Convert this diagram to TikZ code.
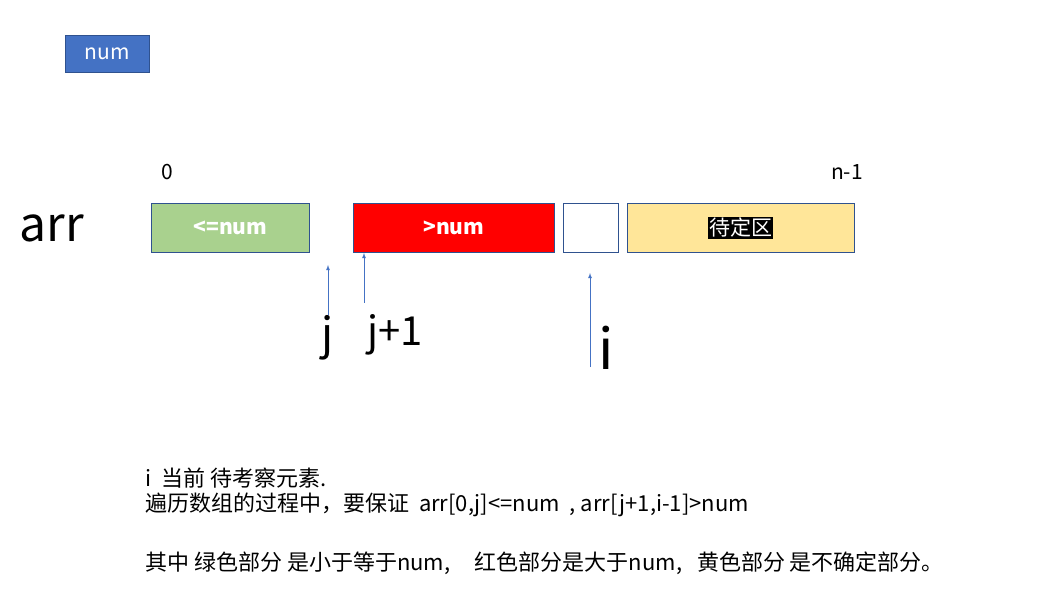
\documentclass[tikz,border=0pt]{standalone}
\usepackage{fontspec}
\setmainfont{Noto Sans CJK SC}
\definecolor{bl}{HTML}{4472C4}
\definecolor{bd}{HTML}{2F528F}
\definecolor{gr}{HTML}{A9D18E}
\definecolor{ye}{HTML}{FFE699}
\begin{document}
\begin{tikzpicture}[x=1pt,y=-1pt,
  cell/.style={draw=bd,line width=0.8pt,inner sep=0pt,anchor=north west},
  arr/.style={-latex,draw=bl,line width=0.8pt},
  lbl/.style={font=\fontsize{22}{26}\selectfont,anchor=west,inner sep=0pt}]
\useasboundingbox[fill=white] (0,0) rectangle (1039,612);
\node[cell,fill=bl,minimum width=84pt,minimum height=37pt,text=white,font=\fontsize{21}{24}\selectfont] (num) at (65,35) {num};
\node[font=\fontsize{21}{24}\selectfont] (zero) at (167,172) {0};
\node[font=\fontsize{21}{24}\selectfont] (n1) at (847,172) {n-1};
\node[font=\fontsize{48}{54}\selectfont] (arr) at (52,228) {arr};
\node[cell,fill=gr,minimum width=158pt,minimum height=49pt,text=white,font=\bfseries\fontsize{21}{24}\selectfont] (g) at (151,203) {<=num};
\node[cell,fill=red,minimum width=201pt,minimum height=49pt,text=white,font=\bfseries\fontsize{21}{24}\selectfont] (r) at (353,203) {>num};
\node[cell,fill=white,minimum width=55pt,minimum height=49pt] (w) at (563,203) {};
\node[cell,fill=ye,minimum width=227pt,minimum height=49pt] (y) at (627,203) {};
\node[fill=black,text=white,inner sep=1pt,font=\fontsize{21}{24}\selectfont] (yt) at (y.center) {待定区};
\coordinate (a1) at (328,315); \coordinate (a1e) at (328,265);
\coordinate (a2) at (364,303); \coordinate (a2e) at (364,253);
\coordinate (a3) at (590,367); \coordinate (a3e) at (590,273);
\draw[arr] (a1) -- (a1e);
\draw[arr] (a2) -- (a2e);
\draw[arr] (a3) -- (a3e);
\node[font=\fontsize{44}{50}\selectfont] (j) at (328,338) {j};
\node[font=\fontsize{40}{46}\selectfont] (j1) at (395,335) {j+1};
\node[font=\fontsize{56}{62}\selectfont] (i) at (606,348) {i};
\node[lbl] (t1) at (145,478) {i\ \ 当前 待考察元素.};
\node[lbl] (t2) at (145,505) {遍历数组的过程中，要保证\ \ arr[0,j]<=num\ \ , arr[j+1,i-1]>num};
\node[lbl] (t3) at (145,563) {其中 绿色部分 是小于等于num,\ \ \ \ \ 红色部分是大于num,\ \ \ 黄色部分 是不确定部分。};
\end{tikzpicture}
\end{document}
